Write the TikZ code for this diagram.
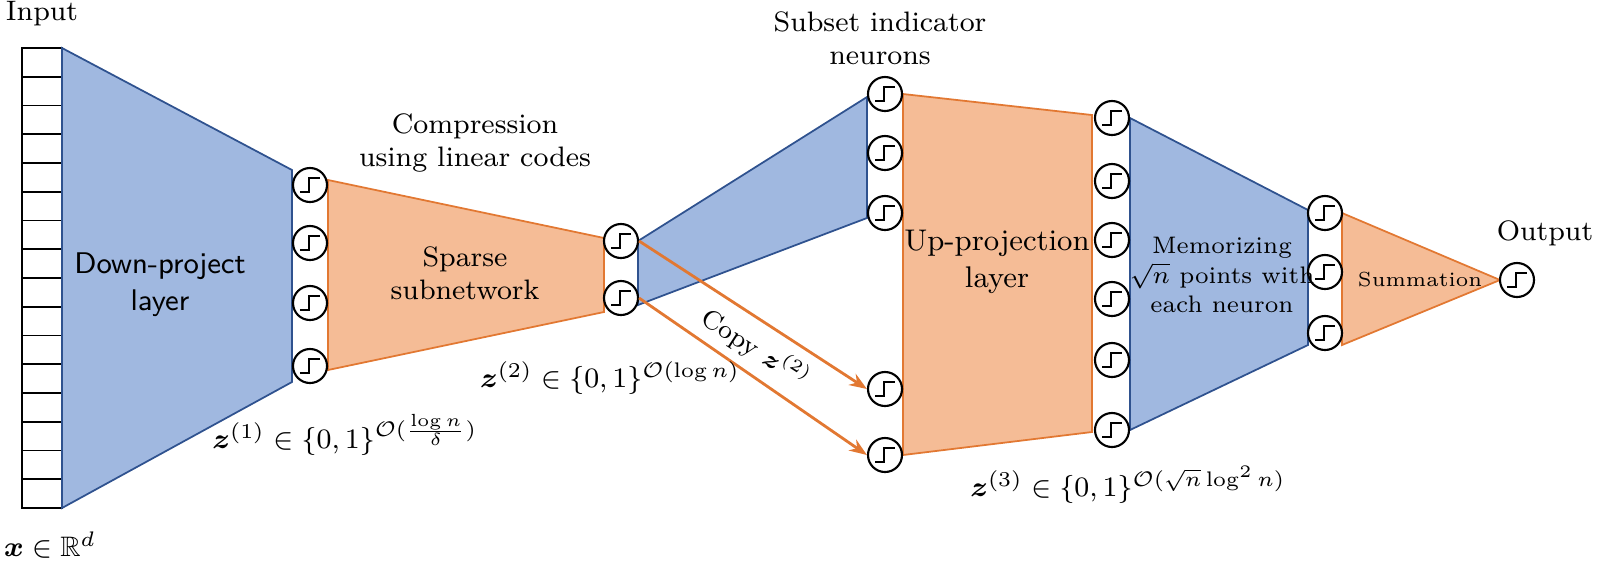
\documentclass[tikz,border=0pt]{standalone}
\usepackage{amsmath,amssymb,bm}
\usetikzlibrary{arrows.meta, positioning}
\definecolor{bluefill}{RGB}{160,184,224}
\definecolor{blueline}{RGB}{47,82,143}
\definecolor{orangefill}{RGB}{245,188,150}
\definecolor{orangeline}{RGB}{226,120,50}
\tikzset{
	neuron/.style = {draw, circle, minimum size=0.34cm, inner sep=0pt, fill=white, line width=0.6pt,
		path picture={\draw[line width=0.5pt] ([xshift=-0.1cm,yshift=-0.07cm]path picture bounding box.center) -- ++(0.09cm,0cm) -- ++(0cm,0.14cm) -- ++(0.11cm,0cm);}},
	bluepart/.style   = {fill=bluefill, draw=blueline, line width=0.5pt},
	orangepart/.style = {fill=orangefill, draw=orangeline, line width=0.5pt},
	copyarrow/.style  = {-{Stealth[length=5pt]}, draw=orangeline, line width=0.8pt},
	label/.style      = {align=center, font=\fontsize{8}{9.5}\selectfont, inner sep=1pt}
}
\begin{document}
\begin{tikzpicture}[x=0.01cm, y=-0.01cm]
	\useasboundingbox (0,0) rectangle (1603,572);
	% input column
	\foreach \i in {0,...,15}
		\draw[line width=0.5pt] (22,{48+\i*28.75}) rectangle (62,{48+(\i+1)*28.75});
	\coordinate (inTop) at (62,48);
	\coordinate (inBot) at (62,508);
	% trapezoids
	\draw[bluepart] (inTop) -- (292,170) -- (292,382) -- (inBot) -- cycle;
	\draw[orangepart] (328,180) -- (604,238) -- (604,312) -- (328,370) -- cycle;
	\draw[bluepart] (638,241) -- (867,97) -- (867,218) -- (638,305) -- cycle;
	\draw[orangepart] (903,94) -- (1092,115) -- (1092,432) -- (903,455) -- cycle;
	\draw[bluepart] (1130,118) -- (1308,210) -- (1308,345) -- (1130,430) -- cycle;
	\draw[orangepart] (1342,213) -- (1500,280) -- (1342,345) -- cycle;
	% neurons
	\foreach \y [count=\k] in {185,243,303,366}
		\node[neuron] (a\k) at (310,\y) {};
	\foreach \y [count=\k] in {241,298}
		\node[neuron] (b\k) at (621,\y) {};
	\foreach \y [count=\k] in {94,153,213}
		\node[neuron] (c\k) at (885,\y) {};
	\foreach \y [count=\k] in {389,455}
		\node[neuron] (d\k) at (885,\y) {};
	\foreach \y [count=\k] in {118,181,240,299,360,430}
		\node[neuron] (e\k) at (1112,\y) {};
	\foreach \y [count=\k] in {213,272,333}
		\node[neuron] (f\k) at (1325,\y) {};
	\node[neuron] (out) at (1517,280) {};
	% copy arrows
	\draw[copyarrow] (b1.east) -- (d1.west);
	\draw[copyarrow] (b2.east) -- (d2.west);
	\node[label, font=\fontsize{7.5}{9}\selectfont, inner sep=0pt, rotate=-33] (copy) at (756,348) {Copy $\bm{z}^{(2)}$};
	% labels
	\node[label] (inLbl) at (42,14) {Input};
	\node[label] (outLbl) at (1545,233) {Output};
	\node[font=\sffamily\fontsize{8.5}{10.5}\selectfont, align=center] (downLbl) at (160,285) {Down-project\\layer};
	\node[label] (sparseLbl) at (465,273) {Sparse\\subnetwork};
	\node[label] (compLbl) at (475,143) {Compression\\using linear codes};
	\node[label] (subLbl) at (880,38) {Subset indicator\\neurons};
	\node[align=center, font=\fontsize{8.5}{10.5}\selectfont] (upLbl) at (997,262) {Up-projection\\layer};
	\node[label, font=\fontsize{6.8}{8.5}\selectfont] (memLbl) at (1222,275) {Memorizing\\$\sqrt{n}$ points with\\each neuron};
	\node[font=\fontsize{5.8}{7}\selectfont, inner sep=1pt] (sumLbl) at (1420,280) {Summation};
	\node[font=\fontsize{8}{9.5}\selectfont] (z1) at (345,435) {$\bm{z}^{(1)}\in\{0,1\}^{\mathcal{O}(\frac{\log n}{\delta})}$};
	\node[font=\fontsize{8}{9.5}\selectfont] (z2) at (610,378) {$\bm{z}^{(2)}\in\{0,1\}^{\mathcal{O}(\log n)}$};
	\node[font=\fontsize{8}{9.5}\selectfont] (z3) at (1128,485) {$\bm{z}^{(3)}\in\{0,1\}^{\mathcal{O}(\sqrt{n}\log^2 n)}$};
	\node[font=\fontsize{8}{9.5}\selectfont] (x) at (50,545) {$\bm{x}\in\mathbb{R}^d$};
\end{tikzpicture}
\end{document}
